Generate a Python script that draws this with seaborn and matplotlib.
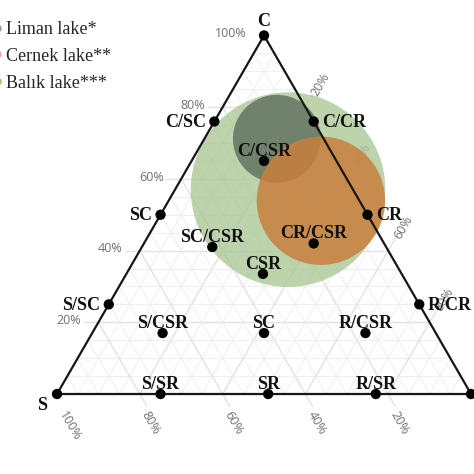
import numpy as np
import pandas as pd
import matplotlib
matplotlib.use("Agg")
import matplotlib.pyplot as plt
from matplotlib.patches import Circle
from matplotlib.lines import Line2D
import seaborn as sns

# CSR strategy points (fractions of C, S, R)
strategy = ["C", "C/SC", "C/CR", "C/CSR", "SC", "CR", "SC/CSR", "CR/CSR", "CSR",
            "S/SC", "R/CR", "S/CSR", "SC", "R/CSR", "S", "S/SR", "SR", "R/SR", ""]
c_share = [1.0, 0.76, 0.76, 0.65, 0.5, 0.5, 0.41, 0.42, 0.335,
           0.25, 0.25, 0.17, 0.17, 0.17, 0.0, 0.0, 0.0, 0.0, 0.0]
s_share = [0.0, 0.24, 0.0, 0.175, 0.5, 0.0, 0.42, 0.17, 0.335,
           0.75, 0.0, 0.66, 0.415, 0.17, 1.0, 0.75, 0.49, 0.23, 0.0]
r_share = [0.0, 0.0, 0.24, 0.175, 0.0, 0.5, 0.17, 0.41, 0.33,
           0.0, 0.75, 0.17, 0.415, 0.66, 0.0, 0.25, 0.51, 0.77, 1.0]
label_side = ["corner_c", "left", "right", "top", "left", "right", "top", "top", "top",
              "left", "right", "top", "top", "top", "corner_s", "top", "top", "top", "none"]

# lake strategy ranges: centre (C, S, R) and radius
lake_names = ["Liman lake*", "Cernek lake**", "Balık lake***"]
lake_c = [0.712, 0.539, 0.57]
lake_s = [0.113, 0.093, 0.157]
lake_r = [0.175, 0.368, 0.273]
lake_radius = [0.106, 0.155, 0.235]
lake_colors = ["#5d6e5c", "#c97f3e", "#abc998"]
legend_marker_colors = ["#9a9a9a", "#eaa3a3", "#8fc27c"]

tick_values = [0.2, 0.4, 0.6, 0.8, 1.0]


def to_xy(c, s, r):
    c = np.asarray(c, dtype=float)
    r = np.asarray(r, dtype=float)
    return r + c / 2, c * np.sqrt(3) / 2


sns.set_theme(style="white")
plt.rcParams["font.family"] = ["Liberation Serif", "DejaVu Serif"]

fig = plt.figure(figsize=(4.74, 4.74), dpi=100)
ax = fig.add_axes([0, 0, 1, 1])

h = np.sqrt(3) / 2
ext = 0.035
grid_major = "#e2e2e2"
grid_minor = "#eeeeee"

# grid lines every 5 %, majors every 20 % extended outside as ticks
for k in range(1, 20):
    v = k / 20
    major = k % 4 == 0
    col = grid_major if major else grid_minor
    lw = 1.0 if major else 0.7
    e = ext if major else 0.0
    # constant C (horizontal)
    x0, y0 = to_xy(v, 1 - v, 0)
    x1, y1 = to_xy(v, 0, 1 - v)
    ax.plot([x0 - e, x1], [y0, y1], color=col, lw=lw, zorder=1)
    # constant R (parallel to C-S edge)
    x0, y0 = to_xy(0, 1 - v, v)
    x1, y1 = to_xy(1 - v, 0, v)
    ax.plot([x0, x1 + e * 0.5], [y0, y1 + e * h], color=col, lw=lw, zorder=1)
    # constant S (parallel to C-R edge)
    x0, y0 = to_xy(1 - v, v, 0)
    x1, y1 = to_xy(0, v, 1 - v)
    ax.plot([x0, x1 + e * 0.5], [y0, y1 - e * h], color=col, lw=lw, zorder=1)

tick_font = dict(family="Open Sans", fontsize=9, color="#707070", zorder=2)
for v in tick_values:
    lab = f"{int(round(v * 100))}%"
    # C axis, left side
    x, y = to_xy(v, 1 - v, 0)
    ax.text(x - 0.042, y + 0.004, lab, ha="right", va="center", **tick_font)
    # S axis, bottom
    x, y = to_xy(0, v, 1 - v)
    ax.text(x + 0.012, y - 0.045, lab, ha="left", va="center", rotation=-60,
            rotation_mode="anchor", **tick_font)
    # R axis, right side
    if v < 1.0:
        x, y = to_xy(1 - v, 0, v)
        ax.text(x + 0.022, y + 0.03, lab, ha="left", va="center", rotation=60,
                rotation_mode="anchor", **tick_font)

# lake circles: biggest first
lx, ly = to_xy(lake_c, lake_s, lake_r)
lake_alpha = [0.8, 0.85, 0.8]
for i in [2, 0, 1]:
    ax.add_patch(Circle((lx[i], ly[i]), lake_radius[i], facecolor=lake_colors[i],
                        edgecolor="none", alpha=lake_alpha[i], zorder=3))

# triangle outline
tx, ty = to_xy([1, 0, 0, 1], [0, 1, 0, 0], [0, 0, 1, 0])
ax.plot(tx, ty, color="#161616", lw=1.6, zorder=4, solid_joinstyle="miter")

# strategy points
px, py = to_xy(c_share, s_share, r_share)
df = pd.DataFrame({"x": px, "y": py, "strategy": strategy, "side": label_side})
sns.scatterplot(data=df, x="x", y="y", color="black", s=55, edgecolor="none",
                ax=ax, zorder=5, legend=False)

lab_font = dict(fontsize=13, fontweight="bold", color="#111111", zorder=6)
for _, row in df.iterrows():
    if row.side == "top":
        ax.text(row.x, row.y + 0.013, row.strategy, ha="center", va="baseline", **lab_font)
    elif row.side == "left":
        ax.text(row.x - 0.02, row.y - 0.002, row.strategy, ha="right", va="center", **lab_font)
    elif row.side == "right":
        ax.text(row.x + 0.02, row.y - 0.002, row.strategy, ha="left", va="center", **lab_font)
    elif row.side == "corner_c":
        ax.text(row.x, row.y + 0.022, row.strategy, ha="center", va="baseline", **lab_font)
    elif row.side == "corner_s":
        ax.text(row.x - 0.036, row.y - 0.027, row.strategy, ha="center", va="center", **lab_font)

handles = [Line2D([], [], marker="o", linestyle="none", markersize=6,
                  markerfacecolor=c, markeredgecolor="none") for c in legend_marker_colors]
ax.legend(handles, lake_names, loc="upper left", bbox_to_anchor=(-0.018, 0.956),
          frameon=False, fontsize=13, handlelength=0.6, handletextpad=0.2,
          labelspacing=0.55, borderpad=0, borderaxespad=0)

ax.set_xlim(-0.1377, 1.0072)
ax.set_ylim(-0.1932, 0.9517)
ax.set_aspect("equal")
ax.axis("off")

fig.savefig("out.png", dpi=100)
